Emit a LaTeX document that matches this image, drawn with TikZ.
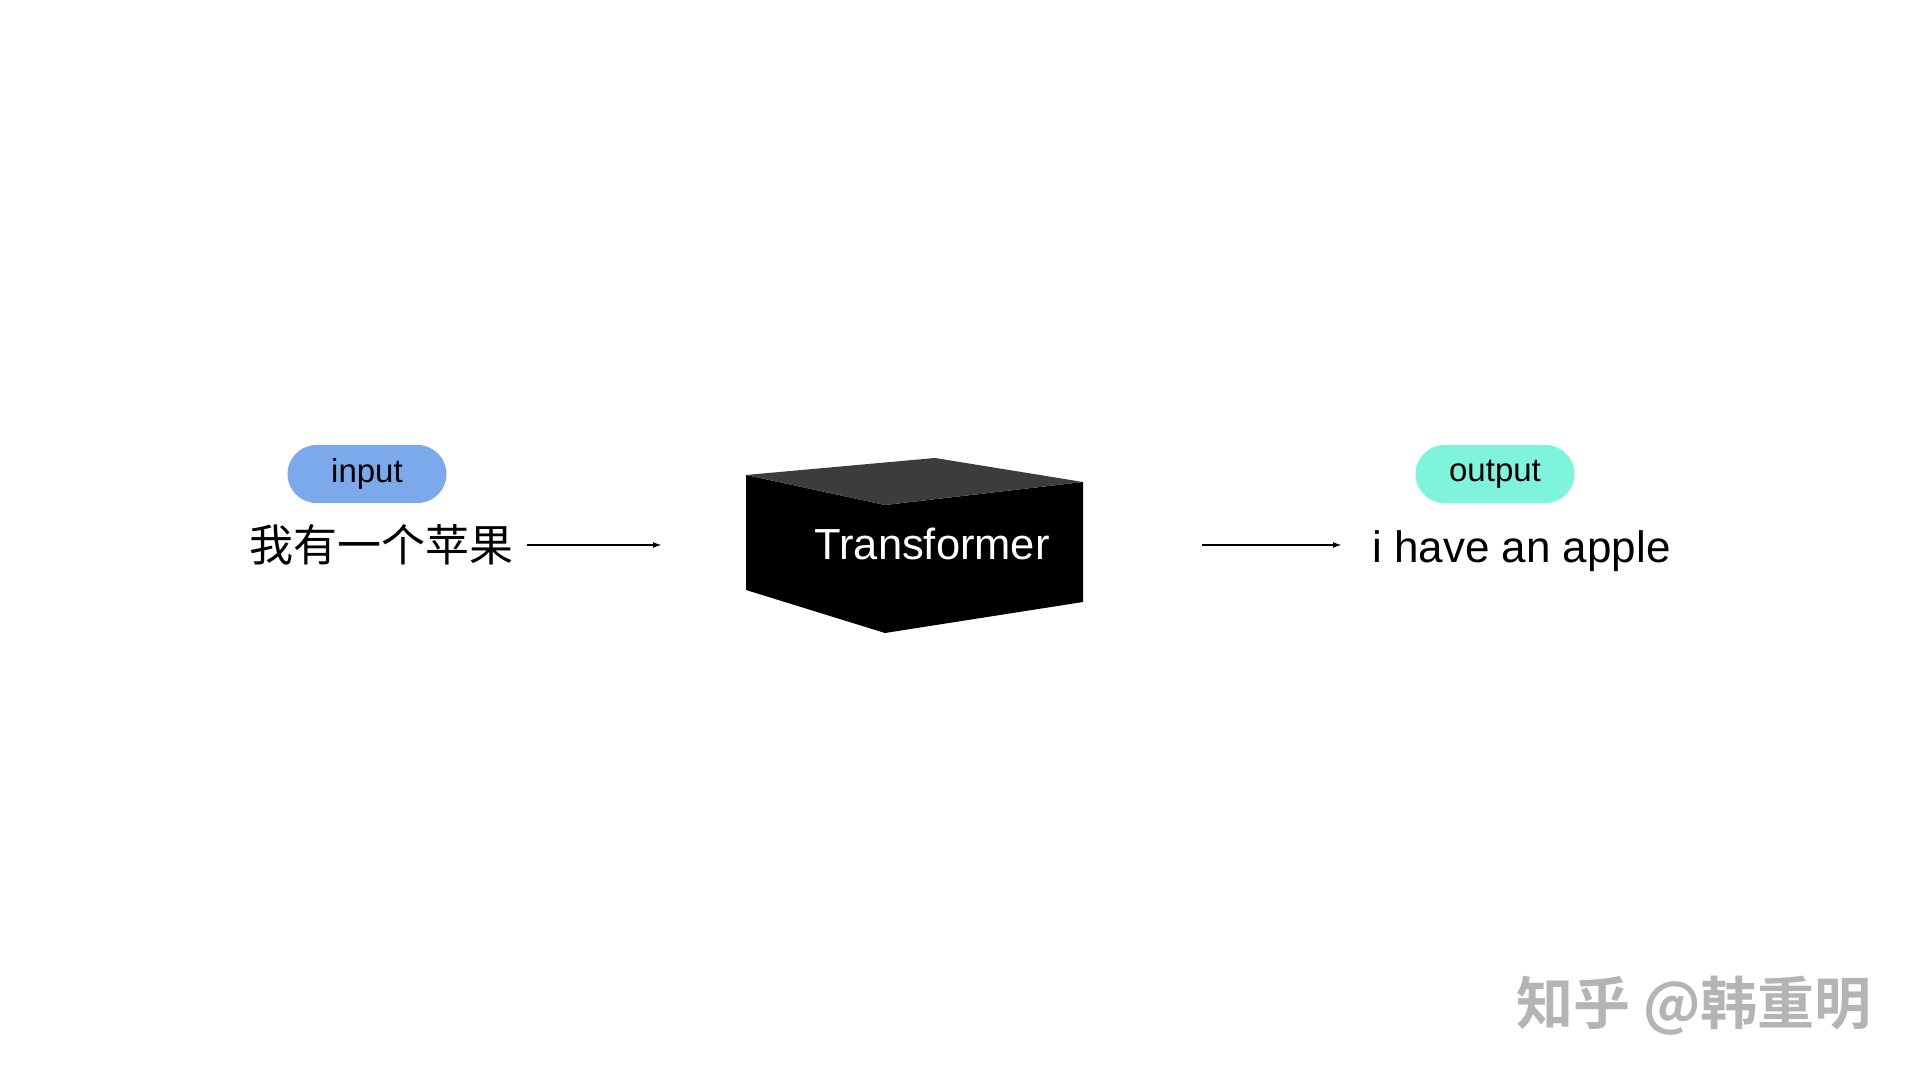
\documentclass[tikz,border=0pt]{standalone}
\usepackage{fontspec}
\setmainfont{Liberation Sans}
\newfontfamily\cjkfont{Noto Sans CJK SC}
\newfontfamily\cjkbold{Noto Sans CJK SC Bold}
\usetikzlibrary{arrows.meta}
\definecolor{inblue}{HTML}{7BA9EC}
\definecolor{outgreen}{HTML}{7EF4DC}
\definecolor{topgray}{HTML}{3C3C3C}
\definecolor{markgray}{HTML}{B4B4B4}
\tikzset{
	tag/.style={fill=#1, rounded corners=29pt, minimum width=159pt, minimum height=58pt, inner sep=0pt, font=\fontsize{33}{37}\selectfont},
	flow/.style={-{Latex[length=9pt,width=6pt]}, line width=1.8pt},
}

\begin{document}
\begin{tikzpicture}[x=1pt,y=1pt]
	\useasboundingbox[fill=white] (0,0) rectangle (1920,1080);
	% the box
	\fill[black] (746,605) -- (885,575) -- (885,447) -- (746,490) -- cycle;
	\fill[black] (885,575) -- (1083,598) -- (1083,478) -- (885,447) -- cycle;
	\fill[topgray] (746,605) -- (935,622) -- (1083,598) -- (885,575) -- cycle;
	\node[anchor=base, white, font=\fontsize{43.5}{48}\selectfont] (model) at (932,520) {Transformer};
	% input side
	\node[tag=inblue] (inlabel) at (367,606) {input};
	\node[font=\cjkfont\fontsize{44}{48}\selectfont, inner sep=0pt] (src) at (381,535) {我有一个苹果};
	\coordinate (inend) at (662,535);
	\draw[flow, shorten <=14pt] (src.east) -- (src.east -| inend);
	% output side
	\node[tag=outgreen] (outlabel) at (1495,606) {output};
	\node[anchor=base west, inner sep=0pt, font=\fontsize{44}{48}\selectfont] (tgt) at (1372,517) {i have an apple};
	\coordinate (outstart) at (1202,535);
	\draw[flow, shorten >=30pt] (outstart) -- (outstart -| tgt.west);
	% watermark
	\node[anchor=west, inner sep=0pt, markgray, font=\cjkbold\fontsize{57}{62}\selectfont] (mark) at (1516,74) {知乎 @韩重明};
\end{tikzpicture}
\end{document}
